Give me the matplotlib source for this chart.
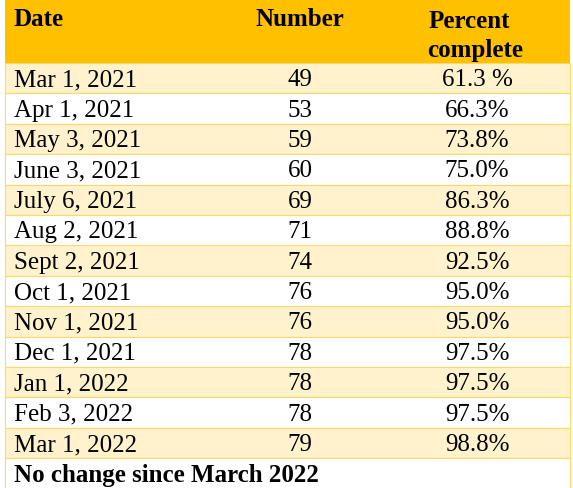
import matplotlib.pyplot as plt
from matplotlib.patches import Rectangle

dates = ["Mar 1, 2021", "Apr 1, 2021", "May 3, 2021", "June 3, 2021", "July 6, 2021",
         "Aug 2, 2021", "Sept 2, 2021", "Oct 1, 2021", "Nov 1, 2021", "Dec 1, 2021",
         "Jan 1, 2022", "Feb 3, 2022", "Mar 1, 2022"]
numbers = [49, 53, 59, 60, 69, 71, 74, 76, 76, 78, 78, 78, 79]
percents = ["61.3 %", "66.3%", "73.8%", "75.0%", "86.3%", "88.8%", "92.5%",
            "95.0%", "95.0%", "97.5%", "97.5%", "97.5%", "98.8%"]
footer = "No change since March 2022"

W, H = 573, 489
fig = plt.figure(figsize=(W / 100, H / 100), dpi=100)
ax = fig.add_axes([0, 0, 1, 1])
ax.set_xlim(0, W)
ax.set_ylim(H, 0)
ax.axis("off")

font = "Liberation Serif"
fs = 18
left, right = 5, 570
header_h = 64
row_h = 30.4
line_col = "#FFD966"

# header
ax.add_patch(Rectangle((left, 0), right - left, header_h, color="#FFC000", lw=0))
ax.text(14, 20, "Date", family=font, fontsize=fs, weight="bold", va="center")
ax.text(300, 20, "Number", family=font, fontsize=fs, weight="bold", va="center", ha="center")
ax.text(469, 21, "Percent", family=font, fontsize=fs, weight="bold", va="center", ha="center")
ax.text(475, 50, "complete", family=font, fontsize=fs, weight="bold", va="center", ha="center")

for i, (d, n, p) in enumerate(zip(dates, numbers, percents)):
    y0 = header_h + i * row_h
    face = "#FFF2CC" if i % 2 == 0 else "white"
    ax.add_patch(Rectangle((left, y0), right - left, row_h, facecolor=face,
                           edgecolor=line_col, lw=0.8))
    yc = y0 + row_h / 2 + 1
    ax.text(14, yc, d, family=font, fontsize=fs, va="center")
    ax.text(300, yc, str(n), family=font, fontsize=fs, va="center", ha="center")
    ax.text(477, yc, p, family=font, fontsize=fs, va="center", ha="center")

y0 = header_h + len(dates) * row_h
ax.add_patch(Rectangle((left, y0), right - left, H - y0 + 5, facecolor="white",
                       edgecolor=line_col, lw=0.8))
ax.text(14, y0 + 16, footer, family=font, fontsize=fs, weight="bold", va="center")

fig.savefig("out.png", dpi=100)
